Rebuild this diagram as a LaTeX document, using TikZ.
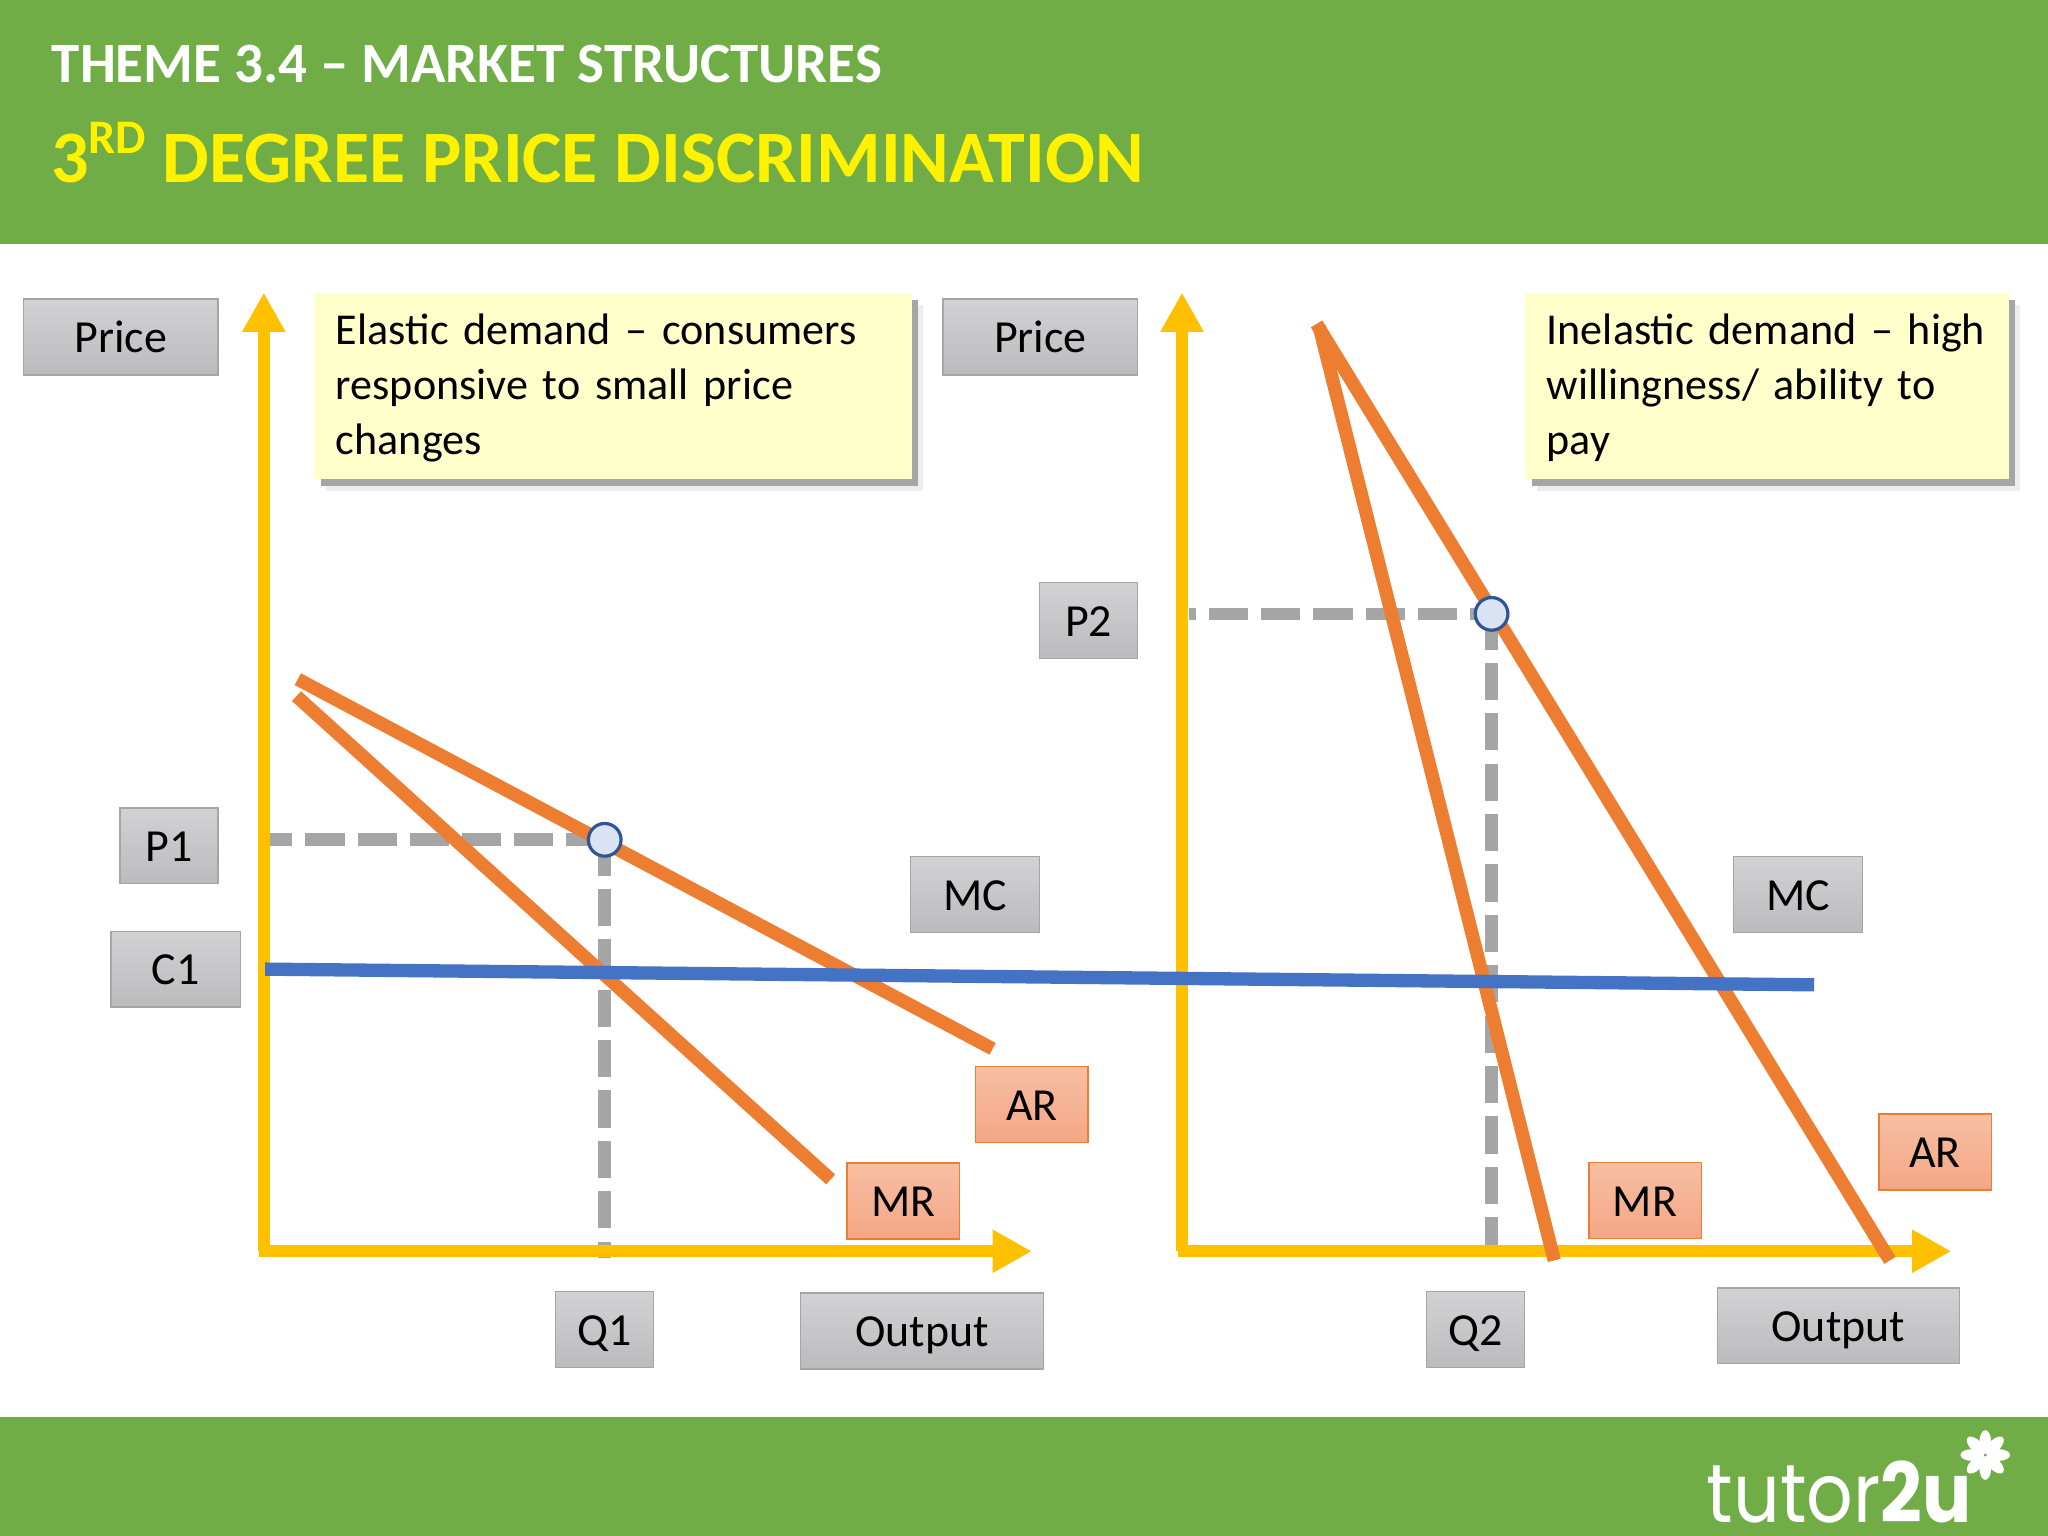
\documentclass[tikz,border=0pt]{standalone}
\usepackage{xcolor}
\usepackage{fontspec}
\setmainfont{Carlito}
\newfontfamily\logofont{Poppins}
\usetikzlibrary{calc,arrows.meta,shadows}

\definecolor{bandgreen}{HTML}{70AD47}
\definecolor{axisyellow}{HTML}{FFC000}
\definecolor{curveorange}{HTML}{ED7D31}
\definecolor{costblue}{HTML}{4472C4}
\definecolor{dashgrey}{HTML}{A5A5A5}
\definecolor{notefill}{HTML}{FFFFCC}
\definecolor{eqfill}{HTML}{DAE3F3}
\definecolor{eqline}{HTML}{2F5597}
\definecolor{greytop}{HTML}{D2D1D4}
\definecolor{greybot}{HTML}{BBBABD}
\definecolor{redtop}{HTML}{F7BFA3}
\definecolor{redbot}{HTML}{F4A685}

\tikzset{
  lblbox/.style={draw=dashgrey,line width=0.3pt,top color=greytop,bottom color=greybot,
    minimum height=0.58cm,inner sep=0pt,font=\fontsize{10}{12}\selectfont,text height=0.24cm,text depth=0cm},
  redbox/.style={lblbox,draw=curveorange,top color=redtop,bottom color=redbot},
  notebox/.style={fill=notefill,minimum height=1.42cm,inner ysep=0pt,inner xsep=0.165cm,anchor=north west,align=left,
    font=\fontsize{9.6}{11.95}\selectfont,
    drop shadow={shadow xshift=0.09cm,shadow yshift=-0.09cm,fill=black!7,opacity=1},
    drop shadow={shadow xshift=0.05cm,shadow yshift=-0.05cm,fill=black!35,opacity=1}},
  axisline/.style={draw=axisyellow,line width=2.65pt,-{Triangle[length=0.3cm,width=0.31cm]}},
  curveline/.style={draw=curveorange,line width=2.9pt},
  dashline/.style={draw=dashgrey,line width=2.76pt,dash pattern=on 8.1pt off 2.87pt,dash phase=0.3pt},
  eqpoint/.style={circle,draw=eqline,line width=0.7pt,fill=eqfill,minimum size=0.25cm,inner sep=0pt},
}

\begin{document}
\begin{tikzpicture}[x=0.01cm,y=-0.01cm]
\useasboundingbox (0,0) rectangle (1568,1176);
\fill[bandgreen] (0,0) rectangle (1568,187);
\fill[bandgreen] (0,1085) rectangle (1568,1176);
\node[anchor=base west,inner sep=0pt,text=white,font=\fontsize{12.4}{14}\bfseries\selectfont] (theme) at (39,63) {THEME 3.4 – MARKET STRUCTURES};
\node[anchor=base west,inner sep=0pt,text=yellow,font=\fontsize{16.1}{18}\bfseries\selectfont] (title) at (38.5,140) {3\raisebox{0.4em}{\fontsize{10.5}{12}\selectfont RD} DEGREE PRICE DISCRIMINATION};

% left market
\coordinate (pa) at (463,643);
\coordinate (qa) at (463,963);
\coordinate (pb) at (1142,470);
\coordinate (qb) at (1142,963);
\coordinate (pka) at (206,643);
\coordinate (pkb) at (910,470);
\draw[dashline,dash pattern=on 8.5pt off 2.83pt,dash phase=3.4pt] (pka) -- (pa);
\draw[dashline] (pa) -- (qa);
\draw[dashline,dash pattern=on 8.5pt off 2.83pt,dash phase=6.8pt] (pkb) -- (pb);
\draw[dashline] (pb) -- (qb);

\coordinate (oa) at (202,958);
\coordinate (oaup) at (202,224);
\coordinate (oart) at (790,958);
\coordinate (ob) at (905,958);
\coordinate (obup) at (905,224);
\coordinate (obrt) at (1494,958);
\draw[axisline] (oa) -- (oaup);
\draw[axisline] (198,958) -- (oart);
\draw[axisline] (ob) -- (obup);
\draw[axisline] (902,958) -- (obrt);

\draw[curveline] (228,520) -- (760,803);
\draw[curveline] (227,533) -- (636,903);
\draw[curveline] (1008,248) -- (1447,965);
\draw[curveline] (1010,250) -- (1190,965);
\draw[draw=costblue,line width=2.9pt] (203,742) -- (1389,754);

\node[eqpoint] (eqa) at (pa) {};
\node[eqpoint] (eqb) at (pb) {};

\node[lblbox,minimum width=1.49cm] (pricea) at (92.5,258) {Price};
\node[lblbox,minimum width=1.49cm] (priceb) at (796.5,258) {Price};
\node[lblbox,minimum width=0.75cm] (pone) at (129.5,647.5) {P1};
\node[lblbox,minimum width=0.99cm] (cone) at (134.5,742) {C1};
\node[lblbox,minimum width=0.75cm] (ptwo) at (833.5,475) {P2};
\node[lblbox,minimum width=0.99cm] (mca) at (746.5,685) {MC};
\node[lblbox,minimum width=0.99cm] (mcb) at (1376.5,685) {MC};
\node[lblbox,minimum width=0.75cm] (qone) at (463,1018) {Q1};
\node[lblbox,minimum width=0.75cm] (qtwo) at (1129.5,1018) {Q2};
\node[lblbox,minimum width=1.86cm] (outa) at (706,1019) {Output};
\node[lblbox,minimum width=1.85cm] (outb) at (1407.5,1015) {Output};

\node[redbox,minimum width=0.86cm] (ara) at (790,845.5) {AR};
\node[redbox,minimum width=0.86cm] (mra) at (691.5,919.5) {MR};
\node[redbox,minimum width=0.86cm] (arb) at (1481.5,882) {AR};
\node[redbox,minimum width=0.86cm] (mrb) at (1259.5,919) {MR};

\node[notebox,minimum width=4.57cm,text width=4.24cm] (notea) at (240,224) {\rule{0pt}{0.26cm}Elastic demand – consumers\\responsive to small price\\changes};
\node[notebox,minimum width=3.7cm,text width=3.37cm] (noteb) at (1167,224) {\rule{0pt}{0.26cm}Inelastic demand – high\\willingness/ ability to\\pay};

% logo
\node[anchor=base west,inner sep=0pt,text=white,font=\fontsize{18}{20}\selectfont\logofont] (logo) at (1306,1166) {\scalebox{0.883}[1]{tutor\textbf{2u}}};
\foreach \ang in {0,45,...,315}
  \fill[white,rotate around={\ang:(1520,1114)}] (1520,1104) ellipse (0.045cm and 0.09cm);
\end{tikzpicture}
\end{document}
